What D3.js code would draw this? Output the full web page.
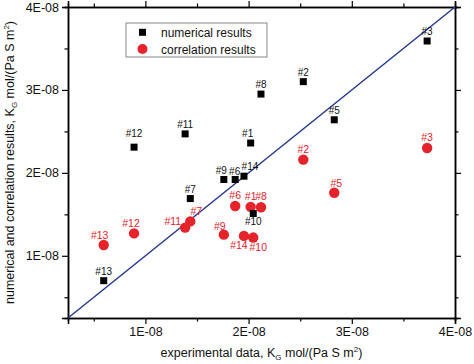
<!DOCTYPE html>
<html>
<head>
<meta charset="utf-8">
<script src="https://cdn.jsdelivr.net/npm/d3@7"></script>
<style>
  body { margin: 0; background: #fff; }
  svg { font-family: Arial, "Liberation Sans", sans-serif; }
</style>
</head>
<body>
<div class="visContainer"></div>
<script>
// values in units of 1E-08 mol/(Pa S m2)
const caseLabels = ['#1', '#2', '#3', '#5', '#6', '#7', '#8', '#9', '#10', '#11', '#12', '#13', '#14'];
const experimental = [2.02, 2.53, 3.73, 2.83, 1.87, 1.435, 2.12, 1.76, 2.045, 1.385, 0.89, 0.596, 1.955];
const numerical =    [2.36, 3.10, 3.59, 2.64, 1.92, 1.69, 2.95, 1.92, 1.51, 2.47, 2.31, 0.70, 1.96];
const correlation =  [1.59, 2.16, 2.30, 1.76, 1.60, 1.415, 1.585, 1.255, 1.22, 1.34, 1.27, 1.13, 1.24];
const majorTicks = [1, 2, 3, 4];
const minorTicks = [0.5, 1.5, 2.5, 3.5];
const tickLabels = ['1E-08', '2E-08', '3E-08', '4E-08'];
const axisRange = [0.25, 4];

const width = 474;
const height = 364;
const m = {left: 68, right: 19, top: 7, bottom: 46};
const red = '#e6222a';

const svg = d3.select('.visContainer')
              .append('svg')
              .attr('width', width)
              .attr('height', height);

const xScale = d3.scaleLinear().domain(axisRange).range([m.left, width - m.right]);
const yScale = d3.scaleLinear().domain(axisRange).range([height - m.bottom, m.top]);

const fmt = (d) => tickLabels[majorTicks.indexOf(d)] || '';

function drawAxis(axisFn, scale, transform, labels) {
    const major = axisFn(scale).tickValues(majorTicks).tickSize(6).tickPadding(3)
                               .tickFormat(labels ? fmt : () => '');
    const minor = axisFn(scale).tickValues(minorTicks).tickSize(3.5).tickFormat(() => '');
    const g1 = svg.append('g').attr('transform', transform).call(minor);
    const g2 = svg.append('g').attr('transform', transform).call(major);
    [g1, g2].forEach(g => {
        g.select('.domain').attr('stroke', '#000').attr('stroke-width', 1.5);
        g.selectAll('.tick line').attr('stroke', '#000').attr('stroke-width', 1.2);
        g.selectAll('text').attr('font-size', '12.5px').attr('fill', '#111')
         .attr('font-family', 'Arial, "Liberation Sans", sans-serif');
    });
    return g2;
}

drawAxis(d3.axisBottom, xScale, 'translate(0,' + (height - m.bottom) + ')', true);
drawAxis(d3.axisTop, xScale, 'translate(0,' + m.top + ')', false);
drawAxis(d3.axisLeft, yScale, 'translate(' + m.left + ',0)', true);
drawAxis(d3.axisRight, yScale, 'translate(' + (width - m.right) + ',0)', false);

// y = x line
svg.append('line')
   .attr('x1', xScale(axisRange[0])).attr('y1', yScale(axisRange[0]))
   .attr('x2', xScale(axisRange[1])).attr('y2', yScale(axisRange[1]))
   .attr('stroke', '#27388c')
   .attr('stroke-width', 1.5);

const points = caseLabels.map((lab, i) => ({lab: lab, x: experimental[i], num: numerical[i], cor: correlation[i]}));

// label placement tweaks (dx, dy, anchor)
const numOffset = {'#10': [0, 11, 'middle'], '#12': [0, -10, 'middle'], '#14': [6, -6.5, 'middle'], '#1': [-3, -6, 'middle'],
                   '#9': [-2.5, -6, 'middle'], '#6': [-0.5, -5, 'middle']};
const corOffset = {'#11': [-4, -2.5, 'end'], '#7': [6, -6, 'middle'], '#9': [-4, -5, 'middle'], '#14': [-5, 13, 'middle'],
                   '#10': [5, 13, 'middle'], '#12': [-3, -6.5, 'middle'], '#13': [-4, -6, 'middle'], '#5': [2, -6, 'middle']};

svg.selectAll('circle.cor')
   .data(points)
   .enter()
   .append('circle')
   .attr('class', 'cor')
   .attr('cx', d => xScale(d.x))
   .attr('cy', d => yScale(d.cor))
   .attr('r', 5.2)
   .attr('fill', red);

svg.selectAll('rect.num')
   .data(points)
   .enter()
   .append('rect')
   .attr('class', 'num')
   .attr('x', d => xScale(d.x) - 3.5)
   .attr('y', d => yScale(d.num) - 3.5)
   .attr('width', 7)
   .attr('height', 7)
   .attr('fill', '#000');

svg.selectAll('text.numlab')
   .data(points)
   .enter()
   .append('text')
   .attr('class', 'numlab')
   .attr('x', d => xScale(d.x) + (numOffset[d.lab] || [0, -6])[0])
   .attr('y', d => yScale(d.num) + (numOffset[d.lab] || [0, -6])[1])
   .attr('text-anchor', d => (numOffset[d.lab] || [0, 0, 'middle'])[2])
   .attr('font-size', '10px')
   .attr('fill', '#111')
   .text(d => d.lab);

svg.selectAll('text.corlab')
   .data(points)
   .enter()
   .append('text')
   .attr('class', 'corlab')
   .attr('x', d => xScale(d.x) + (corOffset[d.lab] || [0, -7])[0])
   .attr('y', d => yScale(d.cor) + (corOffset[d.lab] || [0, -7])[1])
   .attr('text-anchor', d => (corOffset[d.lab] || [0, 0, 'middle'])[2])
   .attr('font-size', '10.5px')
   .attr('fill', red)
   .text(d => d.lab);

// legend
const legend = svg.append('g').attr('transform', 'translate(126,23)');
legend.append('rect')
      .attr('width', 141).attr('height', 34)
      .attr('fill', '#fff').attr('stroke', '#888').attr('stroke-width', 1);
legend.append('rect').attr('x', 13).attr('y', 5.8).attr('width', 7).attr('height', 7).attr('fill', '#000');
legend.append('circle').attr('cx', 16.5).attr('cy', 26).attr('r', 5).attr('fill', red);
legend.append('text').attr('x', 35).attr('y', 13.5).attr('font-size', '12px').attr('fill', '#111').text('numerical results');
legend.append('text').attr('x', 35).attr('y', 30.5).attr('font-size', '12px').attr('fill', '#111').text('correlation results');

// axis titles
function unitTitle(t, lead) {
    t.append('tspan').text(lead + 'K');
    t.append('tspan').attr('font-size', '8px').attr('dy', 3).text('G');
    t.append('tspan').attr('dy', -3).text(' mol/(Pa S m');
    t.append('tspan').attr('font-size', '8px').attr('dy', -5).text('2');
    t.append('tspan').attr('dy', 5).text(')');
}

const xTitle = svg.append('text')
   .attr('x', (m.left + width - m.right) / 2)
   .attr('y', 357)
   .attr('text-anchor', 'middle')
   .attr('font-size', '12.5px')
   .attr('fill', '#111');
unitTitle(xTitle, 'experimental data, ');

const yTitle = svg.append('text')
   .attr('transform', 'translate(14,' + ((m.top + height - m.bottom) / 2) + ') rotate(-90)')
   .attr('text-anchor', 'middle')
   .attr('font-size', '12.5px')
   .attr('fill', '#111');
unitTitle(yTitle, 'numerical and correlation results, ');
</script>
</body>
</html>
